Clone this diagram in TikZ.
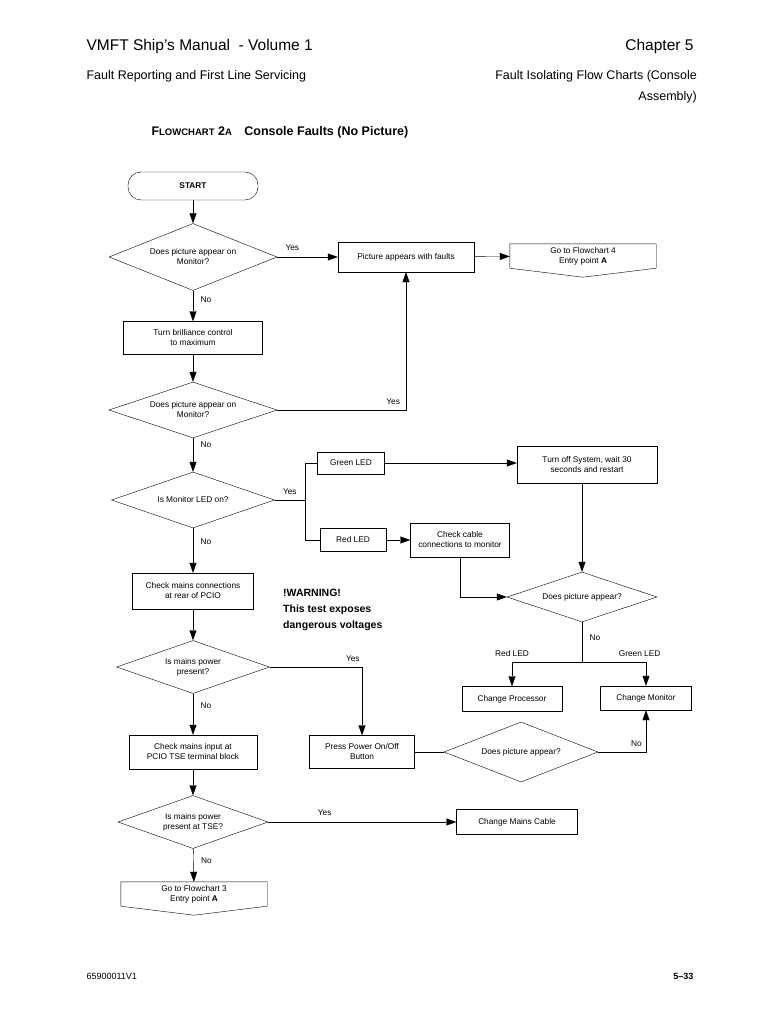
\documentclass[tikz,border=0pt]{standalone}
\usepackage{fontspec}
\setmainfont{Liberation Sans}
\usetikzlibrary{shapes.geometric}
\usetikzlibrary{arrows.meta}
\usetikzlibrary{positioning}

\begin{document}
\begin{tikzpicture}[
  x=1pt, y=-1pt,
  every node/.style={font=\fontsize{8.3}{10}\selectfont},
  box/.style={
    draw, align=center, inner sep=2pt
  },
  decision/.style={
    draw, diamond, inner sep=0pt, align=center, aspect=2.7
  },
  offpage/.style={
    align=center, minimum width=146, minimum height=24, inner sep=1pt
  },
  arrow/.style={-{Triangle[length=10pt,width=7pt]}},
  lbl/.style={font=\fontsize{8.3}{10}\selectfont}
]
\useasboundingbox (0,0) rectangle (768,1024);

% Header and footer
\node[anchor=base west, font=\fontsize{15.5}{18}\selectfont] (hdl) at (83,51) {VMFT Ship's Manual\ \ - Volume 1};
\node[anchor=base east, font=\fontsize{15.5}{18}\selectfont] (hdr) at (697,51) {Chapter 5};
\node[anchor=base west, font=\fontsize{12.5}{14}\selectfont] (subl) at (83,80) {Fault Reporting and First Line Servicing};
\node[anchor=base east, align=right, inner sep=0pt, font=\fontsize{12.5}{21}\selectfont] (subr) at (697,80) {Fault Isolating Flow Charts (Console};
\node[anchor=base east, inner sep=0pt, font=\fontsize{12.5}{21}\selectfont] (subr2) at (697,101) {Assembly)};
\node[anchor=base west, font=\bfseries\fontsize{12.5}{14}\selectfont] (title) at (148,136)
  {F{\fontsize{9.5}{14}\selectfont LOWCHART} 2{\fontsize{9.5}{14}\selectfont A}\quad Console Faults (No Picture)};
\node[anchor=base west, font=\fontsize{9}{10}\selectfont] (ftl) at (83,979) {65900011V1};
\node[anchor=base east, font=\bfseries\fontsize{9}{10}\selectfont] (ftr) at (697,979) {5--33};

% Nodes
\node[draw, rounded corners=13pt, minimum width=130, minimum height=28, font=\bfseries\fontsize{8.3}{10}\selectfont] (start) at (193,186) {START};
\node[decision, minimum width=168, minimum height=67] (d1) at (193,257) {Does picture appear on\\Monitor?};
\node[box, minimum width=136, minimum height=30] (faults) at (406,257) {Picture appears with faults};
\node[offpage] (fc4) at (583,256) {Go to Flowchart 4\\Entry point \textbf{A}};
\node[box, minimum width=139, minimum height=33] (bright) at (193,338) {Turn brilliance control\\to maximum};
\node[decision, minimum width=168, minimum height=56] (d2) at (193,410) {Does picture appear on\\Monitor?};
\node[decision, minimum width=163, minimum height=56] (d3) at (193,500) {Is Monitor LED on?};
\node[box, minimum width=67, minimum height=22] (green) at (351,463) {Green LED};
\node[box, minimum width=66, minimum height=23] (red) at (353,540) {Red LED};
\node[box, minimum width=140, minimum height=37] (restart) at (587,465) {Turn off System, wait 30\\seconds and restart};
\node[box, minimum width=99, minimum height=34] (cable) at (460,540) {Check cable\\connections to monitor};
\node[decision, minimum width=150, minimum height=50] (d4) at (582,597) {Does picture appear?};
\node[box, minimum width=100, minimum height=25] (proc) at (512,699) {Change Processor};
\node[box, minimum width=91, minimum height=24] (mon) at (646,698) {Change Monitor};
\node[box, minimum width=121, minimum height=36] (rear) at (193,591) {Check mains connections\\at rear of PCIO};
\node[anchor=north west, align=left, inner sep=0pt, font=\bfseries\fontsize{10.5}{16}\selectfont] (warn) at (283,589) {!WARNING!\\This test exposes\\dangerous voltages};
\node[decision, minimum width=153, minimum height=53] (d5) at (193,667) {Is mains power\\present?};
\node[box, minimum width=105, minimum height=33] (press) at (362,752) {Press Power On/Off\\Button};
\node[decision, minimum width=154, minimum height=60] (d6) at (521,752) {Does picture appear?};
\node[box, minimum width=128, minimum height=34] (input) at (193,752) {Check mains input at\\PCIO TSE terminal block};
\node[decision, minimum width=150, minimum height=53] (d7) at (193,822) {Is mains power\\present at TSE?};
\node[box, minimum width=121, minimum height=25] (mains) at (517,822) {Change Mains Cable};
\node[offpage] (fc3) at (194,894) {Go to Flowchart 3\\Entry point \textbf{A}};

% Off-page outlines
\draw (fc4.north west) -- (fc4.north east) -- (fc4.south east) -- ([yshift=-9]fc4.south) -- (fc4.south west) -- cycle;
\draw (fc3.north west) -- (fc3.north east) -- (fc3.south east) -- ([yshift=-9]fc3.south) -- (fc3.south west) -- cycle;

% Coordinates
\coordinate (ledsplit) at (305,500);
\coordinate (d4split) at (582,662);

% Arrows
\draw[arrow] (start) -- (d1);
\draw[arrow] (d1) -- (faults) node[pos=0.25, above=3pt, lbl] {Yes};
\draw[arrow] (faults) -- (fc4);
\draw[arrow] (d1) -- (bright) node[pos=0.3, right=4pt, lbl] {No};
\draw[arrow] (bright) -- (d2);
\draw[arrow] (d2.east) -| (faults.south) node[pos=0.45, above=2pt, lbl] {Yes};
\draw[arrow] (d2) -- (d3) node[pos=0.2, right=4pt, lbl] {No};
\draw (d3.east) -- (ledsplit) node[midway, above=2pt, lbl] {Yes};
\draw (ledsplit) |- (green.west);
\draw (ledsplit) |- (red.west);
\draw[arrow] (green) -- (restart.west |- green);
\draw[arrow] (red) -- (cable);
\draw[arrow] (restart.south -| d4) -- (d4);
\draw[arrow] (cable.south) |- (d4.west);
\draw (d4.south) -- (d4split) node[pos=0.4, right=4pt, lbl] {No};
\draw[arrow] (d4split) -| (proc.north) node[pos=0.5, above=2pt, lbl] {Red LED};
\draw[arrow] (d4split) -| (mon.north) node[pos=0.45, above=2pt, lbl] {Green LED};
\draw[arrow] (d3) -- (rear) node[pos=0.3, right=4pt, lbl] {No};
\draw[arrow] (rear) -- (d5);
\draw[arrow] (d5.east) -| (press.north) node[pos=0.45, above=2pt, lbl] {Yes};
\draw (press) -- (d6);
\draw[arrow] (d6.east) -| (mon.south) node[pos=0.4, above=2pt, lbl] {No};
\draw[arrow] (d5) -- (input) node[pos=0.3, right=4pt, lbl] {No};
\draw[arrow] (input) -- (d7);
\draw[arrow] (d7) -- (mains) node[pos=0.3, above=3pt, lbl] {Yes};
\draw[arrow] (d7) -- (fc3) node[pos=0.35, right=4pt, lbl] {No};
\end{tikzpicture}
\end{document}
